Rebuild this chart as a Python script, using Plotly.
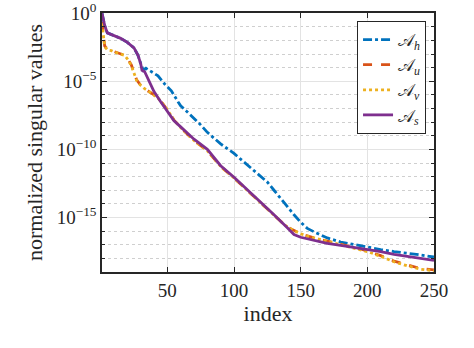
import plotly.graph_objects as go

# ---- data (log10 of normalized singular values) ----
idx_h = [1, 3, 5, 8, 10, 15, 20, 25, 28, 30, 32, 34, 38, 43, 48, 53, 58, 60, 65, 70, 75, 80, 85, 90,
         100, 110, 120, 125, 130, 135, 140, 145, 150, 155, 160, 165, 170, 180, 190, 200, 210, 220,
         230, 240, 250]
log_h = [0, -0.9, -1.45, -1.6, -1.65, -1.85, -2.15, -2.55, -3.1, -3.7, -4.2, -4.05, -4.3, -4.6, -5.2,
         -5.7, -6.5, -6.8, -7.25, -7.7, -8.2, -8.75, -9.2, -9.6, -10.3, -11.15, -12.0, -12.4, -13.0,
         -13.6, -14.25, -14.8, -15.35, -15.8, -16.05, -16.3, -16.5, -16.8, -17.0, -17.2, -17.35,
         -17.5, -17.6, -17.75, -17.9]

idx_s = [1, 3, 5, 8, 10, 15, 20, 25, 28, 30, 31, 33, 35, 40, 45, 50, 55, 60, 65, 70, 80, 90, 100,
         110, 120, 130, 140, 145, 150, 160, 170, 180, 190, 200, 210, 220, 230, 240, 250]
log_s = [0, -0.9, -1.45, -1.6, -1.65, -1.85, -2.15, -2.55, -3.1, -3.7, -4.2, -4.3, -4.7, -5.75,
         -6.5, -7.2, -7.9, -8.35, -8.8, -9.25, -10.0, -11.2, -12.05, -12.95, -13.9, -14.8, -15.75,
         -16.25, -16.45, -16.7, -16.9, -17.05, -17.2, -17.3, -17.5, -17.7, -17.85, -18.0, -18.15]

idx_uv = [1, 2, 3, 5, 8, 10, 15, 18, 20, 23, 27, 30, 33, 37, 40, 43, 45, 50, 55, 60, 70, 80, 90,
          100, 110, 120, 130, 138, 142, 150, 160, 172, 180, 190, 195, 200, 210, 220, 230, 240, 250]
log_u = [-0.65, -1.8, -2.4, -2.65, -2.75, -2.85, -3.0, -3.1, -3.3, -3.8, -4.9, -5.3, -5.55, -5.8,
         -6.0, -6.25, -6.45, -7.1, -7.85, -8.4, -9.35, -10.1, -11.25, -12.1, -13.0, -13.95, -14.85,
         -15.55, -15.8, -16.2, -16.5, -16.8, -17.0, -17.2, -17.3, -17.45, -17.8, -18.2, -18.5,
         -18.75, -18.85]
log_v = [-0.75, -1.85, -2.45, -2.7, -2.75, -2.85, -3.0, -3.1, -3.35, -3.85, -4.95, -5.3, -5.55,
         -5.8, -6.0, -6.25, -6.45, -7.1, -7.85, -8.4, -9.35, -10.1, -11.25, -12.1, -13.0, -13.95,
         -14.85, -15.55, -15.8, -16.2, -16.5, -16.8, -17.0, -17.25, -17.35, -17.5, -17.85, -18.25,
         -18.55, -18.8, -18.9]

x_ticks = [50, 100, 150, 200, 250]
y_tick_exp = [0, -5, -10, -15]
minor_exp = [e for e in range(-1, -19, -1) if e % 5 != 0]

series = [
    ("𝒜<sub><i>h</i></sub>", idx_h, log_h, "#0072BD", "dashdot"),
    ("𝒜<sub><i>u</i></sub>", idx_uv, log_u, "#D95319", "dash"),
    ("𝒜<sub><i>v</i></sub>", idx_uv, log_v, "#EDB120", "dot"),
    ("𝒜<sub><i>s</i></sub>", idx_s, log_s, "#7E2F8E", "solid"),
]

fig = go.Figure()
for name, xs, ls, col, dash in series:
    fig.add_trace(go.Scatter(
        x=xs, y=[10 ** v for v in ls], mode="lines", name=name,
        line=dict(color=col, width=2.8, dash=dash),
    ))

serif = "'Liberation Serif', 'DejaVu Serif', serif"
fig.update_layout(
    width=474, height=348,
    margin=dict(l=102, r=40, t=13, b=76),
    paper_bgcolor="white", plot_bgcolor="white",
    font=dict(family=serif, size=19, color="#262626"),
    showlegend=True,
    legend=dict(
        x=0.976, y=0.969, xanchor="right", yanchor="top",
        bgcolor="white", bordercolor="#262626", borderwidth=1,
        font=dict(family=serif, size=17, color="#262626"),
        itemwidth=30, tracegroupgap=0,
    ),
)
fig.update_xaxes(
    range=[1, 250], tickvals=x_ticks, ticktext=[str(v) for v in x_ticks],
    automargin=False,
    ticks="inside", ticklen=5, tickcolor="#262626",
    showline=True, linecolor="#262626", linewidth=1.5, mirror="allticks",
    showgrid=True, gridcolor="#E3E3E3", gridwidth=1, zeroline=False,
    title=dict(text="index", font=dict(family=serif, size=22, color="#262626"), standoff=6),
    tickfont=dict(family=serif, size=19, color="#262626"),
)
fig.update_yaxes(
    type="log", range=[-19, 0.01],
    automargin=False,
    tickmode="array",
    tickvals=[10 ** e for e in y_tick_exp],
    ticktext=["10<sup>" + ("−" + str(-e) if e < 0 else "0") + "</sup>" for e in y_tick_exp],
    ticklabeloverflow="allow",
    ticks="inside", ticklen=5, tickcolor="#262626",
    showline=True, linecolor="#262626", linewidth=1.5, mirror="allticks",
    showgrid=True, gridcolor="#E3E3E3", gridwidth=1, zeroline=False,
    minor=dict(tickmode="array", tickvals=[10 ** e for e in minor_exp],
               ticks="inside", ticklen=3, tickcolor="#262626",
               showgrid=True, gridcolor="#CFCFCF", griddash="dot", gridwidth=1),
    title=dict(text="normalized singular values", font=dict(family=serif, size=22, color="#262626"), standoff=8),
    tickfont=dict(family=serif, size=19, color="#262626"),
)

fig.write_html("out.html")
